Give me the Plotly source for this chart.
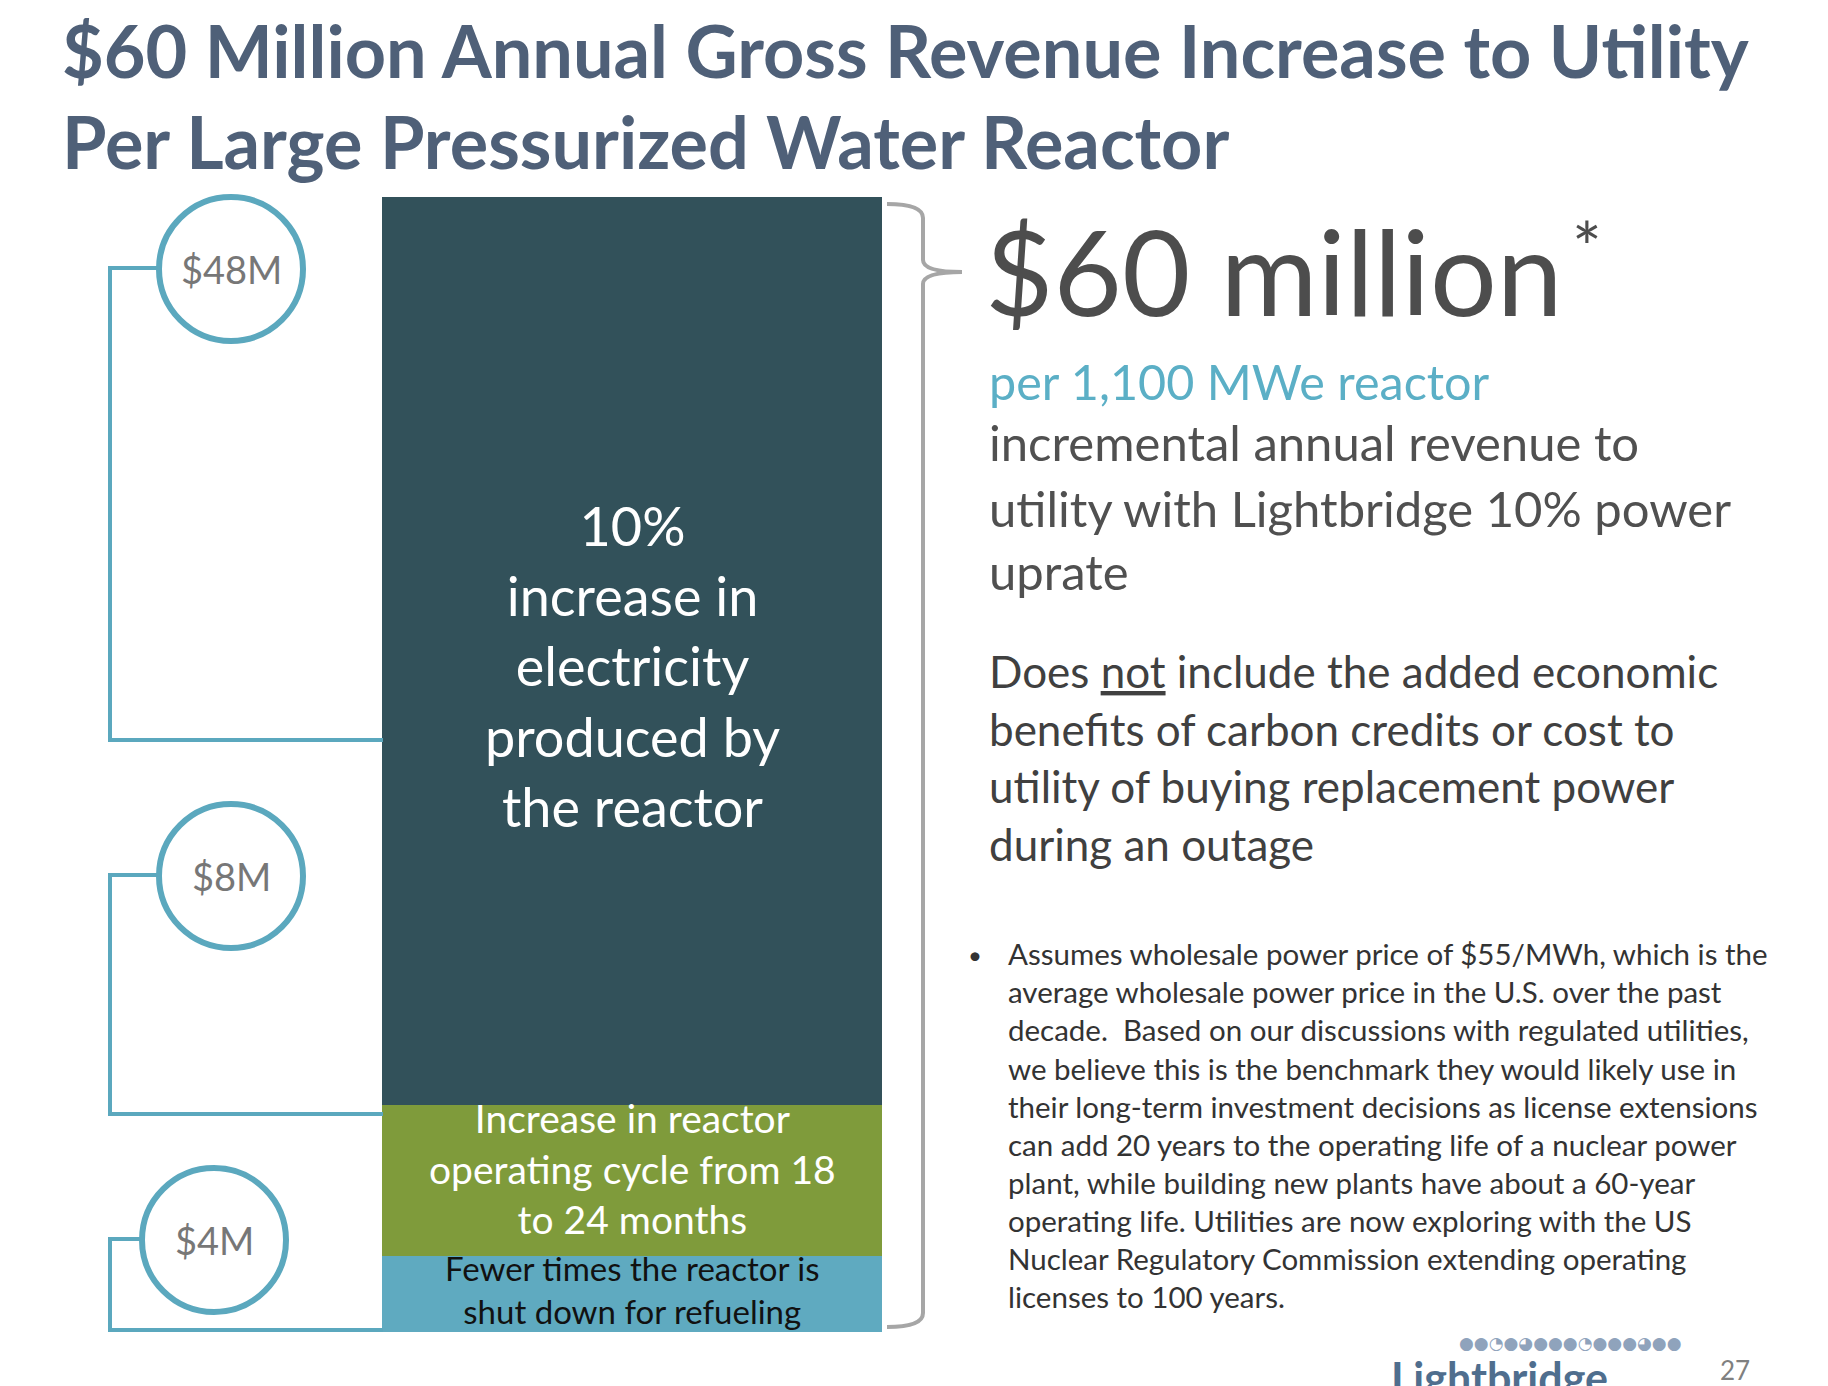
import plotly.graph_objects as go

W, H = 1828, 1386
FONT = "Lato"

# ---- data ----
segments = ["Fewer times the reactor is<br>shut down for refueling",
            "Increase in reactor<br>operating cycle from 18<br>to 24 months",
            "10%<br>increase in<br>electricity<br>produced by<br>the reactor"]
values = [4, 8, 48]                     # $M per year
value_labels = ["$4M", "$8M", "$48M"]
seg_colors = ["#5FAAC0", "#7F9B3B", "#32515A"]
seg_text_colors = ["#111111", "#FFFFFF", "#FFFFFF"]
seg_text_sizes = [33, 39, 54]
seg_text_shift = [5, 12, -15]

title_lines = ["$60 Million Annual Gross Revenue Increase to Utility",
               "Per Large Pressurized Water Reactor"]
headline = "$60 million"
subhead = "per 1,100 MWe reactor"
desc_lines = ["incremental annual revenue to",
              "utility with Lightbridge 10% power",
              "uprate"]
note_lines = ["Does <u>not</u> include the added economic",
              "benefits of carbon credits or cost to",
              "utility of buying replacement power",
              "during an outage"]
bullet_lines = ["Assumes wholesale power price of $55/MWh, which is the",
                "average wholesale power price in the U.S. over the past",
                "decade.  Based on our discussions with regulated utilities,",
                "we believe this is the benchmark they would likely use in",
                "their long-term investment decisions as license extensions",
                "can add 20 years to the operating life of a nuclear power",
                "plant, while building new plants have about a 60-year",
                "operating life. Utilities are now exploring with the US",
                "Nuclear Regulatory Commission extending operating",
                "licenses to 100 years."]


def X(px):
    return px / W


def Y(py):
    return 1 - py / H


def mid_from_base(base, size):
    return base - 0.38 * size


fig = go.Figure()
for name, v, c in zip(segments, values, seg_colors):
    fig.add_trace(go.Bar(x=[0], y=[v], width=[1], marker=dict(color=c, line=dict(width=0)),
                         name=name, hoverinfo="skip", showlegend=False))

annotations = []
shapes = []

# labels inside bar segments (positioned at segment mid-points in data units)
cum = 0
for name, v, tc, ts, sh in zip(segments, values, seg_text_colors, seg_text_sizes, seg_text_shift):
    annotations.append(dict(x=0, y=cum + v / 2, xref="x", yref="y", text=name, showarrow=False,
                            xanchor="center", yanchor="middle", align="center", yshift=sh,
                            font=dict(family=FONT, size=ts, color=tc)))
    cum += v

# title
for txt, base in zip(title_lines, [77, 168]):
    annotations.append(dict(x=X(60), y=Y(mid_from_base(base, 72)), xref="paper", yref="paper",
                            text="<b>" + txt + "</b>", showarrow=False, xanchor="left", yanchor="middle",
                            font=dict(family=FONT, size=72, color="#4F6078")))

# circles with values and connectors
circ = {"$48M": (231, 269, 268, 740), "$8M": (231, 876, 875, 1114), "$4M": (214, 1240, 1239, 1330)}
R = 72
for lab in value_labels:
    cx, cy, ytop, ybot = circ[lab]
    shapes.append(dict(type="path", xref="paper", yref="paper",
                       path=f"M {X(cx - R)} {Y(ytop)} L {X(110)} {Y(ytop)} L {X(110)} {Y(ybot)} L {X(383)} {Y(ybot)}",
                       line=dict(color="#5BA8BE", width=4)))
    shapes.append(dict(type="circle", xref="paper", yref="paper",
                       x0=X(cx - R), x1=X(cx + R), y0=Y(cy + R), y1=Y(cy - R),
                       line=dict(color="#5BA8BE", width=6), fillcolor="white"))
    annotations.append(dict(x=X(cx), y=Y(cy), xref="paper", yref="paper", text=lab, showarrow=False,
                            xanchor="center", yanchor="middle",
                            font=dict(family=FONT, size=38, color="#777777")))

# curly bracket
bpath = (f"M {X(887)} {Y(204)} Q {X(923)} {Y(204)} {X(923)} {Y(218)} "
         f"L {X(923)} {Y(260)} Q {X(923)} {Y(272)} {X(962)} {Y(272)} "
         f"Q {X(923)} {Y(272)} {X(923)} {Y(284)} "
         f"L {X(923)} {Y(1313)} Q {X(923)} {Y(1327)} {X(887)} {Y(1327)}")
shapes.append(dict(type="path", xref="paper", yref="paper", path=bpath,
                   line=dict(color="#A6A6A6", width=4)))

# right text block
annotations.append(dict(x=X(983), y=Y(mid_from_base(315, 118)), xref="paper", yref="paper", text=headline,
                        showarrow=False, xanchor="left", yanchor="middle",
                        font=dict(family=FONT, size=118, color="#4D4D4D")))
annotations.append(dict(x=X(1570), y=Y(246), xref="paper", yref="paper", text="*",
                        showarrow=False, xanchor="left", yanchor="middle",
                        font=dict(family=FONT, size=70, color="#4D4D4D")))
annotations.append(dict(x=X(987), y=Y(mid_from_base(399, 48.5)), xref="paper", yref="paper", text=subhead,
                        showarrow=False, xanchor="left", yanchor="middle",
                        font=dict(family=FONT, size=48.5, color="#5BAFC6")))
for txt, base in zip(desc_lines, [461, 527, 590]):
    annotations.append(dict(x=X(987), y=Y(mid_from_base(base, 49)), xref="paper", yref="paper", text=txt,
                            showarrow=False, xanchor="left", yanchor="middle",
                            font=dict(family=FONT, size=49, color="#505050")))
for i, txt in enumerate(note_lines):
    base = 688 + i * 57.5
    annotations.append(dict(x=X(987), y=Y(mid_from_base(base, 44)), xref="paper", yref="paper", text=txt,
                            showarrow=False, xanchor="left", yanchor="middle",
                            font=dict(family=FONT, size=44, color="#404040")))
for i, txt in enumerate(bullet_lines):
    base = 965 + i * 38.1
    annotations.append(dict(x=X(1006), y=Y(mid_from_base(base, 29.5)), xref="paper", yref="paper", text=txt,
                            showarrow=False, xanchor="left", yanchor="middle",
                            font=dict(family=FONT, size=29.5, color="#333333")))
annotations.append(dict(x=X(966), y=Y(mid_from_base(965, 28)), xref="paper", yref="paper", text="•",
                        showarrow=False, xanchor="left", yanchor="middle",
                        font=dict(family=FONT, size=24, color="#333333")))

# logo and page number
annotations.append(dict(x=X(1457), y=Y(1343), xref="paper", yref="paper",
                        text="●●◔●◕●●●◔●●●◕●●", showarrow=False, xanchor="left", yanchor="middle",
                        font=dict(family="DejaVu Sans", size=17, color="#8FA3BC")))
annotations.append(dict(x=X(1389), y=Y(mid_from_base(1394, 43)), xref="paper", yref="paper",
                        text="<b>Lightbridge</b>",
                        showarrow=False, xanchor="left", yanchor="middle",
                        font=dict(family=FONT, size=43, color="#4F6E8E")))
annotations.append(dict(x=X(1718), y=Y(1370), xref="paper", yref="paper", text="27",
                        showarrow=False, xanchor="left", yanchor="middle",
                        font=dict(family=FONT, size=26, color="#808080")))

fig.update_layout(
    width=W, height=H, margin=dict(l=0, r=0, t=0, b=0),
    paper_bgcolor="white", plot_bgcolor="white",
    barmode="stack", bargap=0,
    xaxis=dict(domain=[X(382), X(882)], range=[-0.5, 0.5], visible=False, fixedrange=True),
    yaxis=dict(domain=[Y(1332), Y(197)], range=[0, sum(values)], visible=False, fixedrange=True),
    annotations=annotations, shapes=shapes, showlegend=False,
)

fig.write_html("out.html")
